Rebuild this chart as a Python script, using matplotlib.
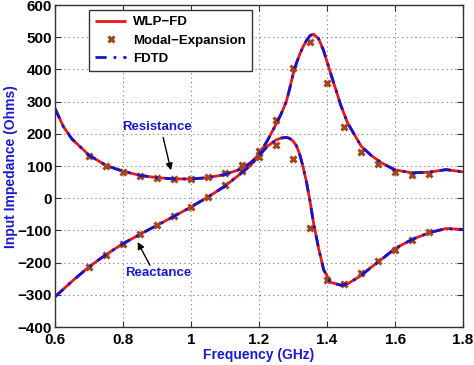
import numpy as np
import matplotlib
matplotlib.use('Agg')
import matplotlib.pyplot as plt

plt.rcParams['font.family'] = ['Liberation Sans', 'DejaVu Sans']
plt.rcParams['font.weight'] = 'bold'

# curve data (WLP-FD and FDTD overlap)
freq = [0.6, 0.625, 0.65, 0.7, 0.75, 0.8, 0.85, 0.9, 0.95, 1.0, 1.05, 1.1, 1.15,
        1.175, 1.2, 1.225, 1.25, 1.265, 1.28, 1.29, 1.3, 1.31, 1.32, 1.33, 1.34,
        1.35, 1.36, 1.375, 1.39, 1.41, 1.44, 1.46, 1.5, 1.53, 1.56, 1.6, 1.65,
        1.7, 1.75, 1.8]
resistance = [279, 222, 184, 134, 102, 84, 71, 64, 60, 60, 64, 74, 92,
              110, 136, 180, 230, 262, 300, 340, 385, 420, 448, 472, 491,
              505, 510, 496, 458, 390, 290, 235, 162, 133, 110, 88, 79,
              81, 89, 82]
reactance = [-306, -282, -258, -213, -175, -141, -112, -84, -56, -27, 4, 38, 80,
             102, 133, 162, 181, 187, 189, 186, 178, 163, 135, 95, 48,
             -10, -75, -155, -222, -261, -270, -266, -240, -214, -190, -156, -128,
             -107, -94, -97]

# modal expansion points
mfreq = [0.7, 0.75, 0.8, 0.85, 0.9, 0.95, 1.0, 1.05, 1.1, 1.15, 1.2, 1.25, 1.3,
         1.35, 1.4, 1.45, 1.5, 1.55, 1.6, 1.65, 1.7]
mres = [130, 100, 81, 68, 62, 59, 59, 65, 78, 102, 148, 242, 404,
        485, 357, 220, 144, 106, 81, 71, 74]
mreact = [-213, -175, -143, -112, -84, -56, -27, 4, 40, 84, 128, 165, 123,
          -92, -255, -267, -233, -195, -161, -130, -106]

red = '#ee1515'
blue = '#1414cc'
brown = '#a5461a'
lblue = '#1a1acc'

fig = plt.figure(figsize=(4.74, 3.65), dpi=100)
ax = fig.add_axes([0.116, 0.104, 0.861, 0.882])

for y in [resistance, reactance]:
    ax.plot(freq, y, color=red, lw=2.0, solid_capstyle='butt',
            label='WLP\u2212FD' if y is resistance else None)
for y, lab in [(mres, 'Modal\u2212Expansion'), (mreact, None)]:
    ax.plot(mfreq, y, ls='none', marker='x', ms=5, mew=2.2, color=brown, label=lab)
for y in [resistance, reactance]:
    ax.plot(freq, y, color=blue, lw=2.0, ls=(0, (4, 2.5, 1, 2.5)),
            label='FDTD' if y is resistance else None)

ax.set_xlim(0.6, 1.8)
ax.set_ylim(-400, 600)
ax.set_xticks([0.6, 0.8, 1.0, 1.2, 1.4, 1.6, 1.8])
ax.set_xticklabels(['0.6', '0.8', '1', '1.2', '1.4', '1.6', '1.8'])
ax.set_yticks(np.arange(-400, 601, 100))
ax.tick_params(direction='in', top=True, right=True, labelsize=11, length=4,
               color='#333333')
ax.tick_params(axis='x', pad=4)
ax.tick_params(axis='y', pad=2)
for lab in ax.get_xticklabels() + ax.get_yticklabels():
    lab.set_fontweight('bold')
ax.grid(True, ls=(0, (1, 3)), color='#777777', lw=0.8)
for s in ax.spines.values():
    s.set_color('#333333')
    s.set_linewidth(1.0)

ax.set_xlabel('Frequency (GHz)', color=lblue, fontsize=10, fontweight='bold', labelpad=1)
ax.set_ylabel('Input Impedance (Ohms)', color=lblue, fontsize=10, fontweight='bold', labelpad=0)

arrow = dict(arrowstyle='-|>', color='black', lw=1, shrinkA=0, shrinkB=0,
             mutation_scale=10)
ax.text(0.9, 220, 'Resistance', color=lblue, fontsize=9.5, fontweight='bold',
        ha='center', va='center')
ax.annotate('', xy=(0.941, 87), xytext=(0.918, 189), arrowprops=arrow)
ax.text(0.903, -233, 'Reactance', color=lblue, fontsize=9.5, fontweight='bold',
        ha='center', va='center')
ax.annotate('', xy=(0.843, -136), xytext=(0.879, -208), arrowprops=arrow)

leg = ax.legend(loc='upper left', bbox_to_anchor=(0.083, 0.984), borderaxespad=0,
                handlelength=2.4, handletextpad=0.5, fancybox=False, framealpha=1,
                edgecolor='#333333', borderpad=0.45, labelspacing=0.45,
                prop={'weight': 'bold', 'size': 9.5})
leg.get_frame().set_linewidth(1.0)

fig.savefig('out.png', dpi=100)
